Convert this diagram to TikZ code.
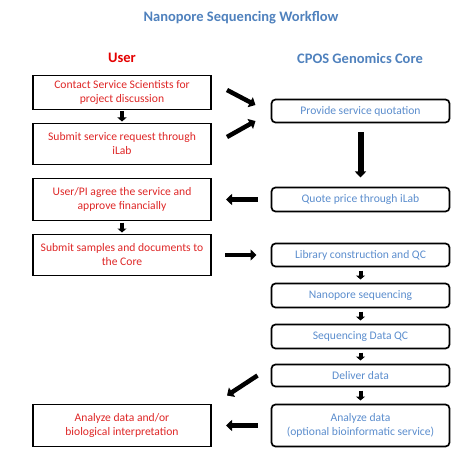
\documentclass[tikz,border=0pt]{standalone}
\usepackage{fontspec}
\setmainfont{Carlito}
\usetikzlibrary{arrows.meta,positioning}
\definecolor{titleblue}{RGB}{79,129,189}
\definecolor{coreblue}{RGB}{91,141,205}
\definecolor{userred}{RGB}{222,38,38}
\definecolor{headred}{RGB}{228,0,0}

\begin{document}
\begin{tikzpicture}[x=1pt,y=-1pt,every node/.style={outer sep=0pt},
 userbox/.style={draw,line width=1.7pt,text=userred,minimum width=178pt,align=center,
 font=\fontsize{11.6}{14}\selectfont},
 corebox/.style={draw,line width=1.7pt,rounded corners=4pt,text=coreblue,minimum width=178pt,
 align=center,font=\fontsize{11.6}{14}\selectfont},
 head/.style={font=\fontsize{14.5}{17}\selectfont\bfseries},
 blk/.style={line width=4.5pt,-{Triangle[length=6pt,width=11pt]}},
 blksmall/.style={line width=4pt,-{Triangle[length=4pt,width=9pt]}},
 blkbig/.style={line width=6pt,-{Triangle[length=6pt,width=11pt]}}]

\useasboundingbox (0,0) rectangle (474,468);

\node[head,text=titleblue] (title) at (241,18) {Nanopore Sequencing Workflow};
\node[head,text=headred] (user) at (122,58) {User};
\node[head,text=titleblue] (core) at (360,58) {CPOS Genomics Core};

\node[userbox,minimum height=34pt] (u1) at (122,92.5) {Contact Service Scientists for\\project discussion};
\node[userbox,minimum height=41pt] (u2) at (122,144) {Submit service request through\\iLab};
\node[userbox,minimum height=42pt] (u3) at (122,199.5) {User/PI agree the service and\\approve financially};
\node[userbox,minimum height=41pt] (u4) at (122,255) {Submit samples and documents to\\the Core};
\node[userbox,minimum height=42pt] (u5) at (122,425.5) {Analyze data and/or\\biological interpretation};

\node[corebox,minimum height=23pt] (c1) at (360.5,111) {Provide service quotation};
\node[corebox,minimum height=24pt] (c2) at (360.5,199.5) {Quote price through iLab};
\node[corebox,minimum height=23pt] (c3) at (360.5,255) {Library construction and QC};
\node[corebox,minimum height=24pt] (c4) at (360.5,295.5) {Nanopore sequencing};
\node[corebox,minimum height=24pt] (c5) at (360.5,336.5) {Sequencing Data QC};
\node[corebox,minimum height=22pt] (c6) at (360.5,375.5) {Deliver data};
\node[corebox,minimum height=42pt] (c7) at (360.5,425.5) {Analyze data\\(optional bioinformatic service)};

\draw[blksmall] ([shift={(0,2)}]u1.south) -- ([shift={(0,-2)}]u2.north);
\draw[blksmall] ([shift={(0,2)}]u3.south) -- ([shift={(0,-2)}]u4.north);
\foreach \a/\b in {c3/c4,c4/c5,c5/c6,c6/c7}
 \draw[blksmall] ([shift={(0,4)}]\a.south) -- ([shift={(0,-4)}]\b.north);

\draw[blk] ([shift={(16,-2.5)}]u1.east) -- ([shift={(-16,-6)}]c1.west);
\draw[blk] ([shift={(16,-7)}]u2.east) -- ([shift={(-16,10)}]c1.west);
\draw[blkbig] ([shift={(0,10)}]c1.south) -- ([shift={(0,-10)}]c2.north);
\draw[blk] ([shift={(-14,0)}]c2.west) -- ([shift={(15,0)}]u3.east);
\draw[blk] ([shift={(14,0)}]u4.east) -- ([shift={(-15,0)}]c3.west);
\draw[blk] ([shift={(-14,0)}]c6.west) -- ([shift={(16,-9)}]u5.north east);
\draw[blk] ([shift={(-14,0)}]c7.west) -- ([shift={(15,0)}]u5.east);

\end{tikzpicture}
\end{document}
